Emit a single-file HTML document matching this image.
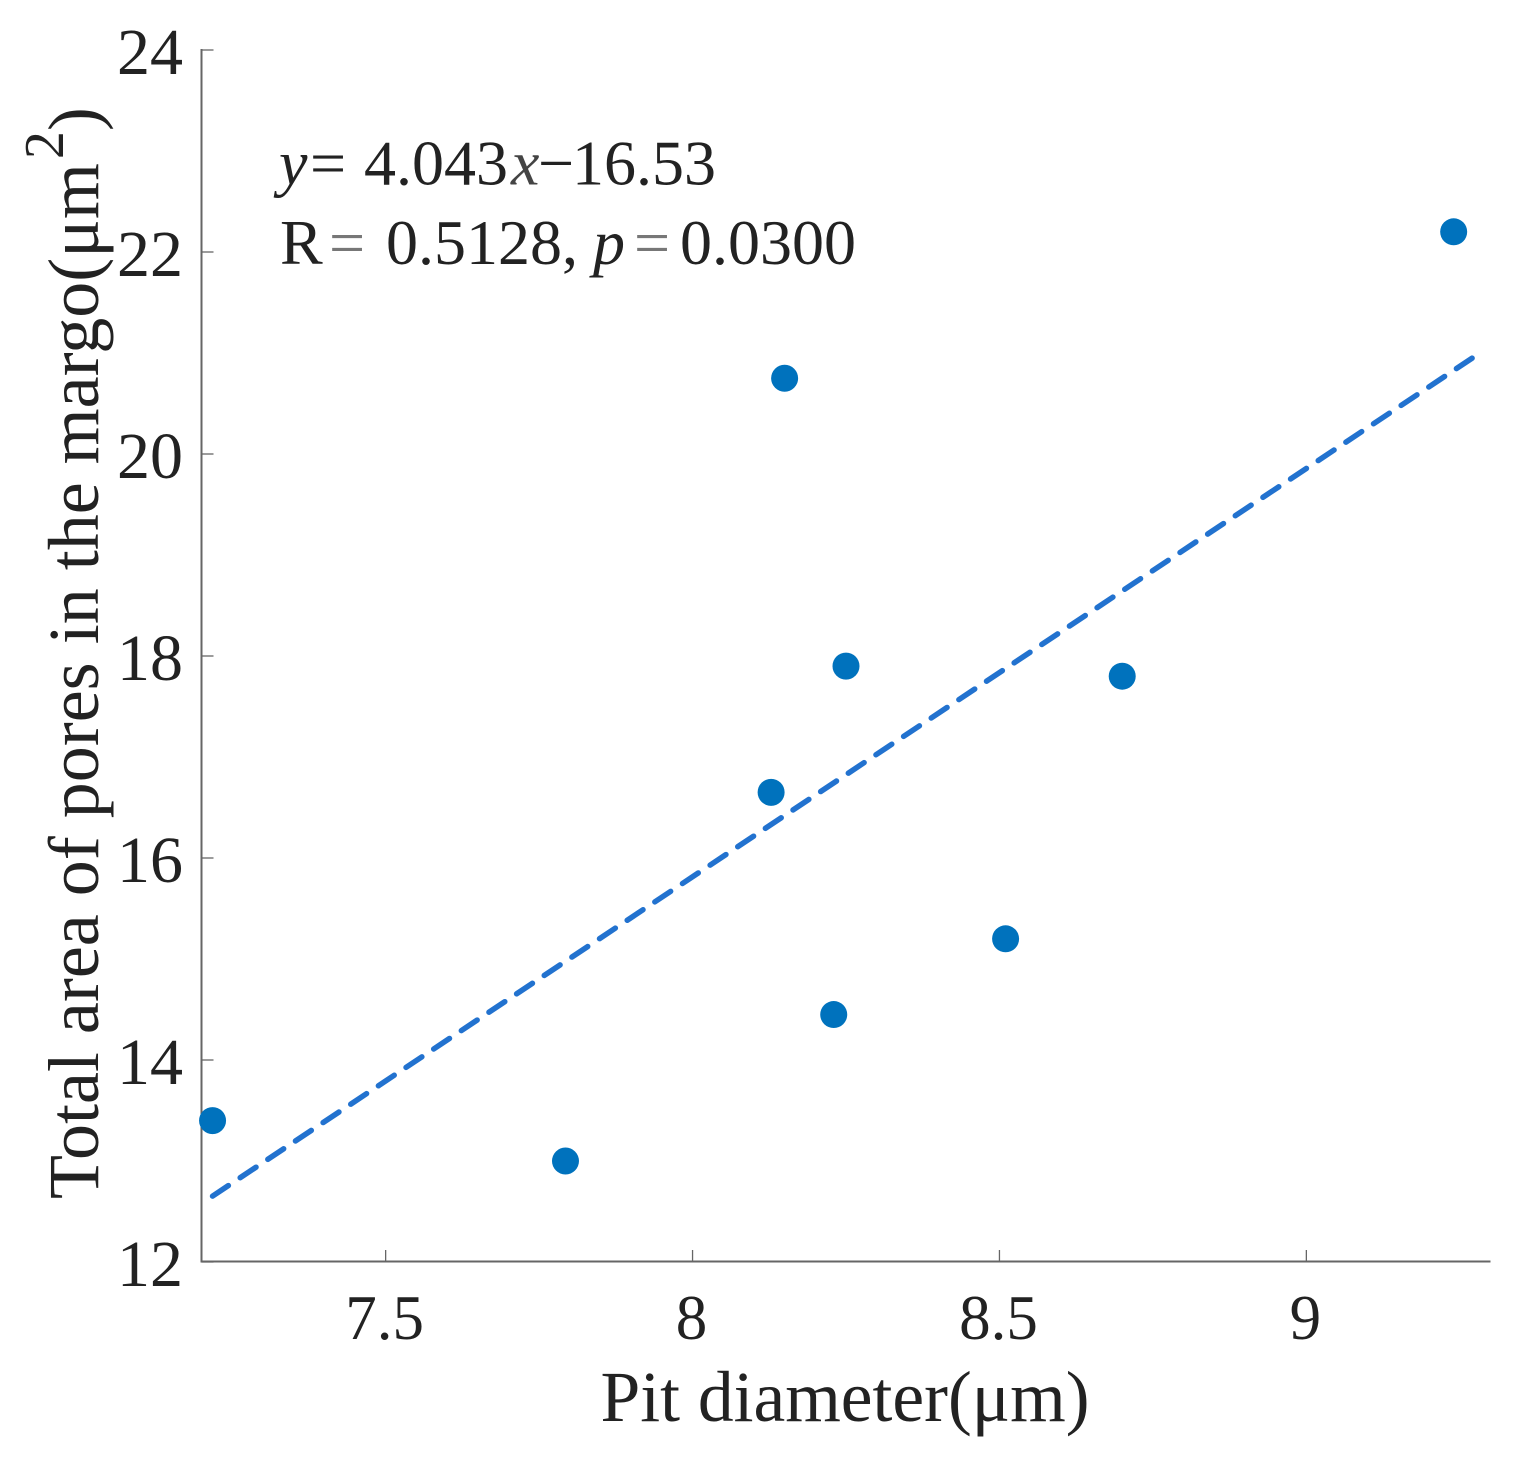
<!DOCTYPE html>
<html>
<head>
<meta charset="utf-8">
<style>
html,body{margin:0;padding:0;background:#fff;}
svg{display:block;}
text{font-family:"Liberation Serif",serif;fill:#222222;}
</style>
</head>
<body>
<svg id="chart" xmlns="http://www.w3.org/2000/svg" width="1535" height="1465" viewBox="0 0 1535 1465"></svg>
<script>
const pitDiameter = [7.218, 7.793, 8.128, 8.15, 8.25, 8.23, 8.51, 8.70, 9.24];
const poreArea = [13.4, 13.0, 16.65, 20.75, 17.9, 14.45, 15.2, 17.8, 22.2];
const xTicks = [7.5, 8, 8.5, 9];
const yTicks = [12, 14, 16, 18, 20, 22, 24];
const fitSlope = 4.043;
const fitIntercept = -16.53;
const fitRange = [7.218, 9.27];
const xDomain = [7.2, 9.3];
const yDomain = [12, 24];

const svg = document.getElementById('chart');
const NS = 'http://www.w3.org/2000/svg';
const plot = {left: 201.5, right: 1490.5, top: 50, bottom: 1262};
function xScale(v) { return plot.left + (v - xDomain[0]) / (xDomain[1] - xDomain[0]) * (plot.right - plot.left); }
function yScale(v) { return plot.bottom - (v - yDomain[0]) / (yDomain[1] - yDomain[0]) * (plot.bottom - plot.top); }
function make(tag, attrs, text) {
  const el = document.createElementNS(NS, tag);
  for (const k in attrs) el.setAttribute(k, attrs[k]);
  if (text !== undefined) el.textContent = text;
  svg.appendChild(el);
  return el;
}
const axisStyle = {stroke: '#666666', 'stroke-width': 2, fill: 'none'};
const tickStyle = {stroke: '#666666', 'stroke-width': 1.3, fill: 'none'};

const xAxisLine = make('line', Object.assign({x1: plot.left - 1, x2: plot.right, y1: plot.bottom - 0.5, y2: plot.bottom - 0.5}, axisStyle));


const yAxisLine = make('line', Object.assign({x1: plot.left, x2: plot.left, y1: plot.top - 1, y2: plot.bottom}, axisStyle));



xTicks.forEach(function (t) {
  const tick = make('line', Object.assign({x1: xScale(t), x2: xScale(t), y1: plot.bottom, y2: plot.bottom - 12}, tickStyle));
  
  
  const label = make('text', {x: xScale(t) - 1, y: 1339, 'font-size': 63, 'text-anchor': 'middle'}, String(t));
  
  
});
yTicks.forEach(function (t) {
  const tick = make('line', Object.assign({x1: plot.left, x2: plot.left + 12, y1: yScale(t), y2: yScale(t)}, tickStyle));
  
  
  const label = make('text', {x: 183, y: yScale(t) + 24, 'font-size': 66, 'text-anchor': 'end'}, String(t));
  
  
});

const fit = make('line', {x1: xScale(fitRange[0]), y1: yScale(fitSlope * fitRange[0] + fitIntercept), x2: xScale(fitRange[1]), y2: yScale(fitSlope * fitRange[1] + fitIntercept), stroke: '#2272CF', 'stroke-width': 5.5, 'stroke-linecap': 'round', 'stroke-dasharray': '19 14.2'});



pitDiameter.forEach(function (v, i) {
  const pt = make('circle', {cx: xScale(v), cy: yScale(poreArea[i]), r: 13.5, fill: '#0072BD'});
  
  
});

const xTitle = make('text', {x: 845, y: 1421, 'font-size': 71.5, 'text-anchor': 'middle'}, 'Pit diameter(μm)');



const yTitle = make('text', {transform: 'translate(98,1199) rotate(-90)', 'font-size': 72, 'text-anchor': 'start'});


yTitle.innerHTML = 'Total area of pores in the margo(μm<tspan dx="4" dy="-35" font-size="56">2</tspan><tspan dy="35">)</tspan>';

const eq = make('text', {x: 279, y: 184.5, 'font-size': 64});


eq.innerHTML = '<tspan font-style="italic">y</tspan><tspan x="310">=</tspan><tspan x="364">4.043</tspan><tspan x="511" font-style="italic" fill="#444444">x</tspan><tspan x="538">−</tspan><tspan x="572">16.53</tspan>';

const stats = make('text', {x: 280, y: 264, 'font-size': 64});


stats.innerHTML = 'R<tspan x="329" fill="#777777">=</tspan><tspan x="386">0.5128,</tspan><tspan x="593" font-style="italic">p</tspan><tspan x="634" fill="#777777">=</tspan><tspan x="680">0.0300</tspan>';
</script>
</body>
</html>
